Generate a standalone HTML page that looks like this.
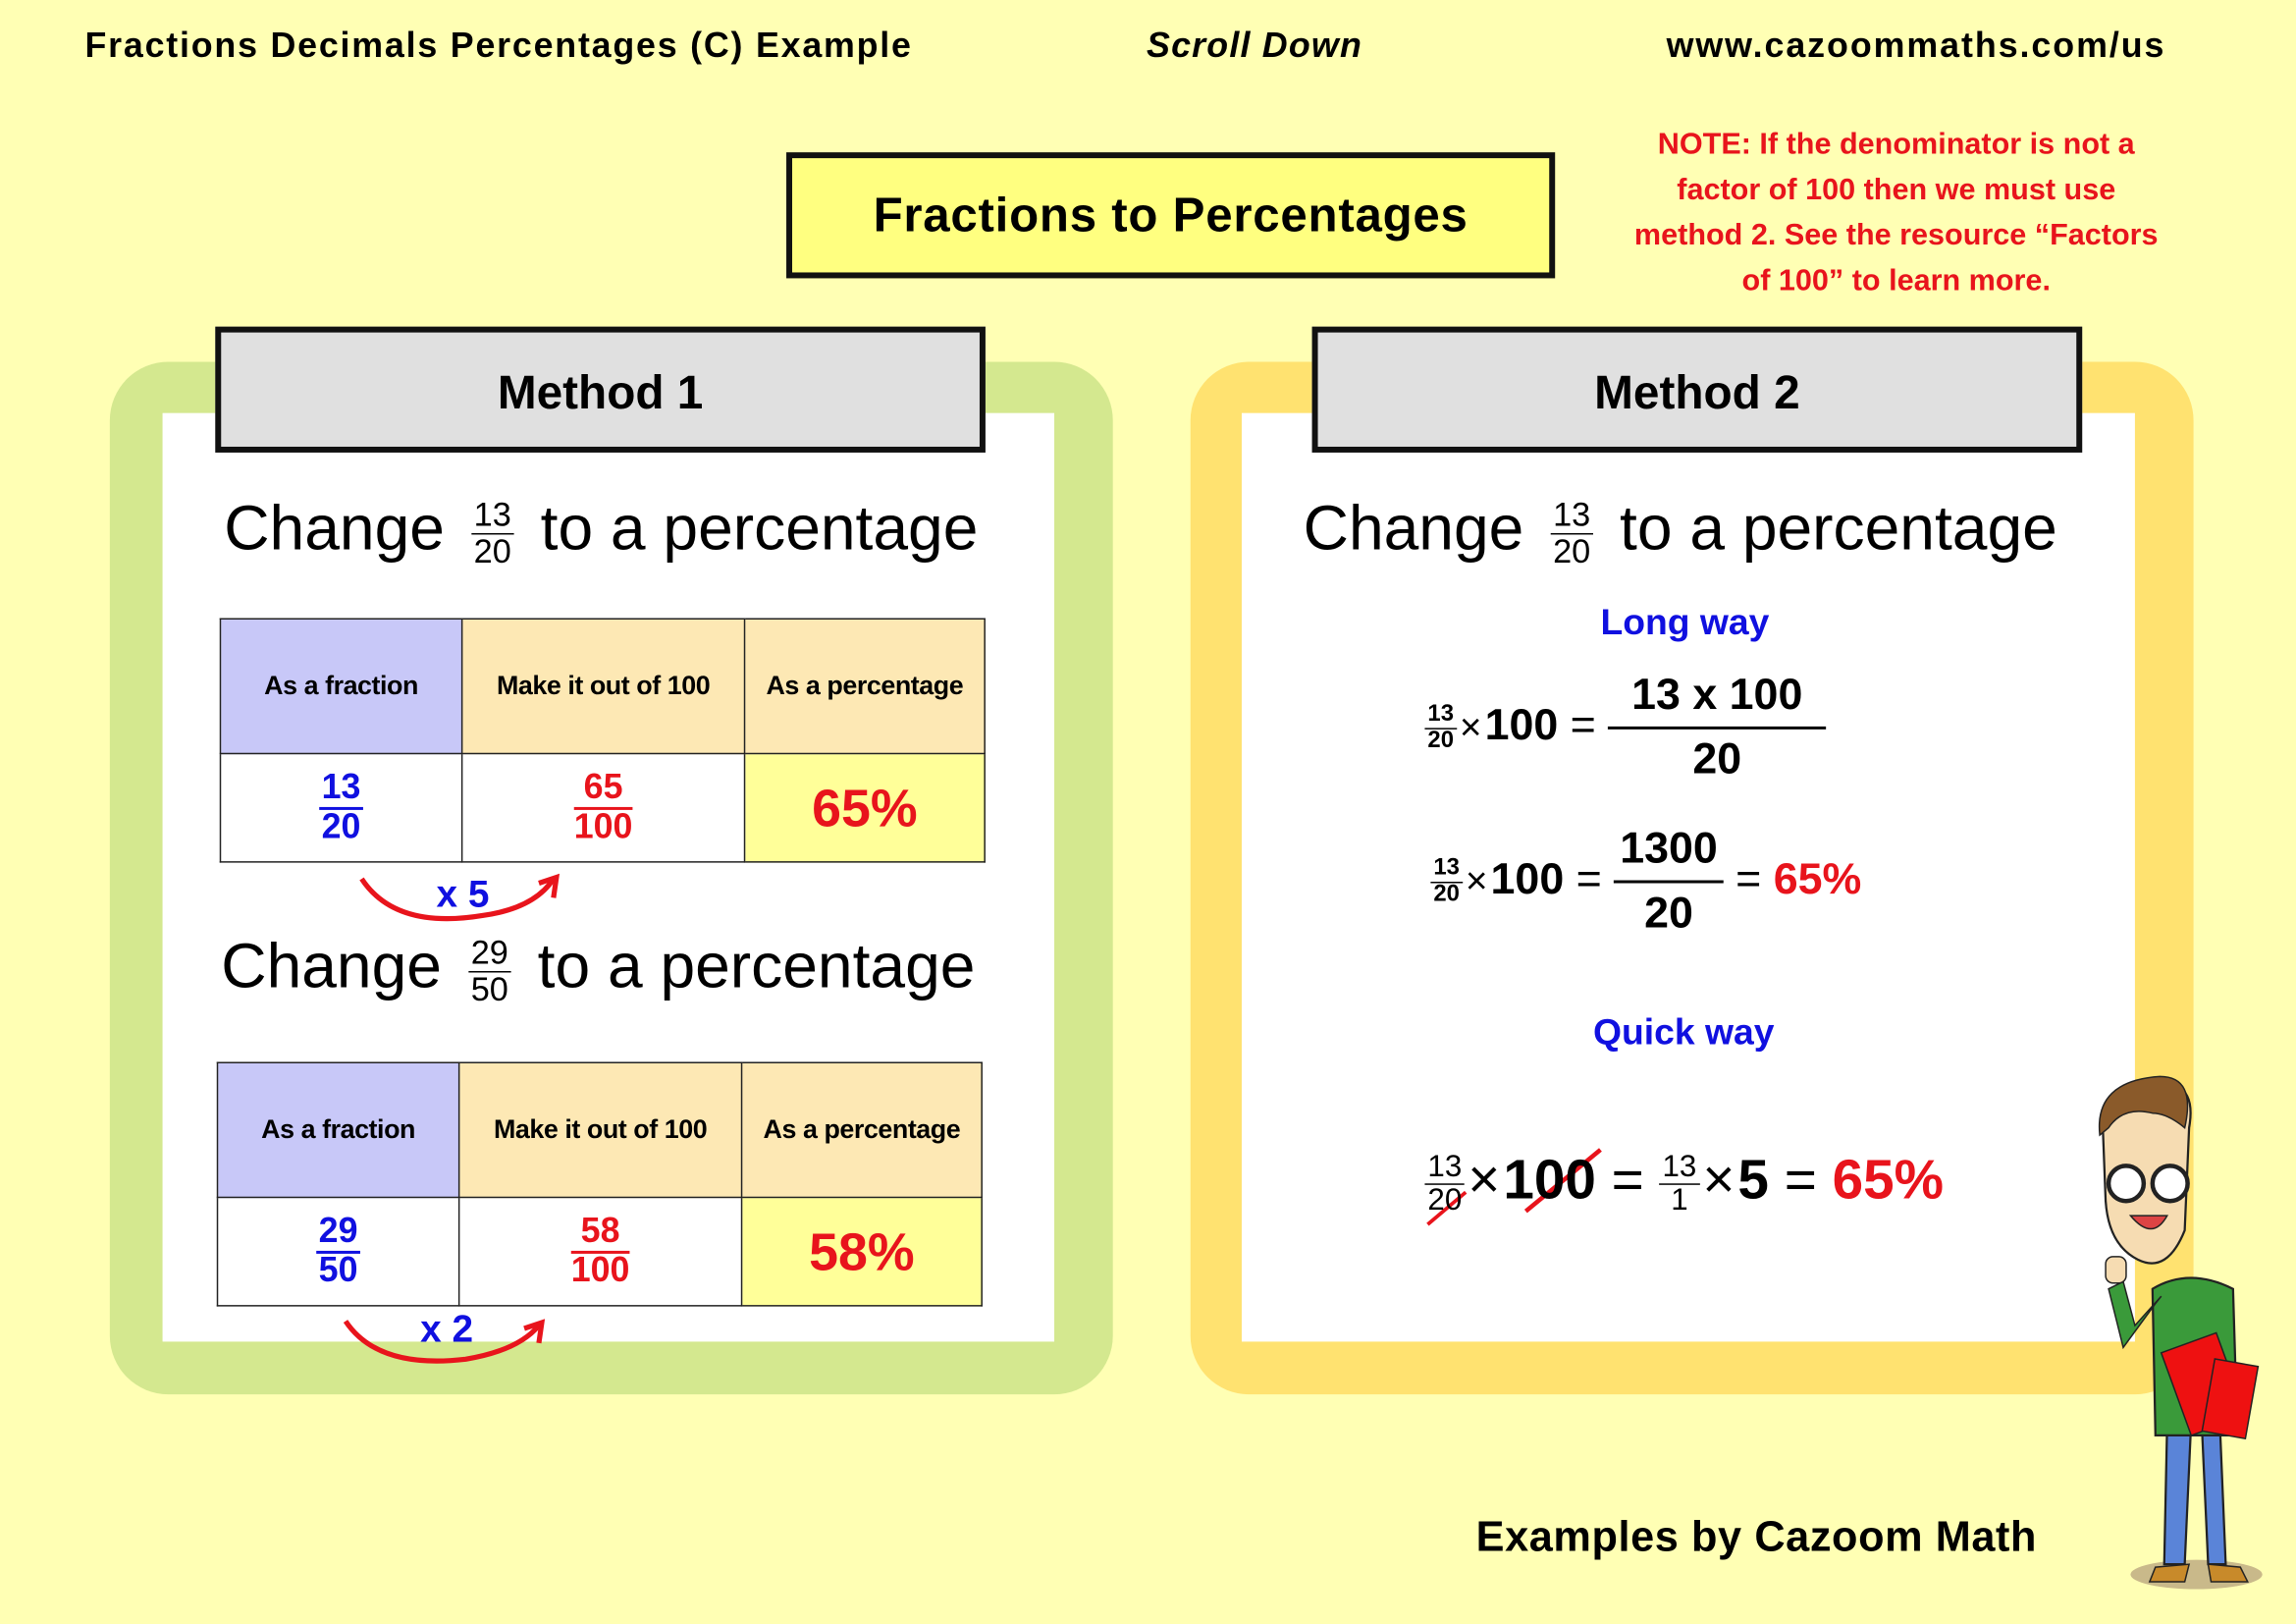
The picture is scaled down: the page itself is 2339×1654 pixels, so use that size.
<!DOCTYPE html>
<html><head><meta charset="utf-8"><style>
html,body{margin:0;padding:0;width:2339px;height:1654px;overflow:hidden;background:#ffffb4;}
#s{position:absolute;left:0;top:0;width:1568px;height:1109px;transform:scale(1.49171);transform-origin:0 0;font-family:"Liberation Sans",sans-serif;}
.a{position:absolute;white-space:nowrap;}
.b{font-weight:bold;}
.frac{display:inline-block;vertical-align:middle;text-align:center;line-height:1;}
.frac span{display:block;}
.frac .n{border-bottom:2px solid currentColor;padding:0 2px 1px;}
table{position:absolute;border-collapse:collapse;font-family:"Liberation Sans",sans-serif;}
td{border:1.5px solid #222;text-align:center;padding:0;}
.h{font-size:18px;font-weight:bold;letter-spacing:-0.3px;}
</style></head><body><div id="s">
<div class="a b" style="left:58px;top:18px;font-size:24px;letter-spacing:1.2px;">Fractions Decimals Percentages (C) Example</div>
<div class="a b" style="left:783px;top:18px;font-size:24px;font-style:italic;letter-spacing:0.8px;">Scroll Down</div>
<div class="a b" style="left:1138px;top:18px;font-size:24px;letter-spacing:1.3px;">www.cazoommaths.com/us</div>

<div class="a b" style="left:537px;top:104px;width:517px;height:78px;border:4px solid #111;background:#ffff80;font-size:33px;line-height:78px;text-align:center;letter-spacing:0.5px;">Fractions to Percentages</div>
<div class="a b" style="left:1115px;top:83px;width:360px;text-align:center;color:#e8141c;font-size:20.5px;line-height:31px;white-space:normal;">NOTE: If the denominator is not a factor of 100 then we must use method 2. See the resource “Factors of 100” to learn more.</div>

<div class="a" style="left:75px;top:247px;width:685px;height:705px;background:#d4e88f;border-radius:40px;"></div>
<div class="a" style="left:111px;top:282px;width:609px;height:634px;background:#fff;"></div>
<div class="a b" style="left:147px;top:223px;width:518px;height:78px;border:4px solid #111;background:#e0e0e0;font-size:32px;line-height:82px;text-align:center;">Method 1</div>

<div class="a" style="left:813px;top:247px;width:685px;height:705px;background:#ffe270;border-radius:40px;"></div>
<div class="a" style="left:848px;top:282px;width:610px;height:634px;background:#fff;"></div>
<div class="a b" style="left:896px;top:223px;width:518px;height:78px;border:4px solid #111;background:#e0e0e0;font-size:32px;line-height:82px;text-align:center;">Method 2</div>

<div class="a" style="left:153px;top:337px;font-size:43px;">Change <span class="frac" style="font-size:23px;margin:0 6px;"><span class="n" style="border-width:1.5px">13</span><span>20</span></span> to a percentage</div>
<div class="a" style="left:151px;top:636px;font-size:43px;">Change <span class="frac" style="font-size:23px;margin:0 6px;"><span class="n" style="border-width:1.5px">29</span><span>50</span></span> to a percentage</div>
<div class="a" style="left:890px;top:337px;font-size:43px;">Change <span class="frac" style="font-size:23px;margin:0 6px;"><span class="n" style="border-width:1.5px">13</span><span>20</span></span> to a percentage</div>

<table style="left:150px;top:422px;width:523px;height:167px;">
<tr style="height:92px"><td class="h" style="width:164px;background:#c8c8f8">As a fraction</td><td class="h" style="width:192px;background:#fde8b4">Make it out of 100</td><td class="h" style="background:#fde8b4">As a percentage</td></tr>
<tr><td><span class="frac b" style="font-size:24px;color:#1010e0"><span class="n">13</span><span>20</span></span></td><td><span class="frac b" style="font-size:24px;color:#e8141c"><span class="n">65</span><span>100</span></span></td><td class="b" style="background:#ffff99;color:#e8141c;font-size:36px;">65%</td></tr>
</table>
<table style="left:148px;top:725px;width:523px;height:167px;">
<tr style="height:92px"><td class="h" style="width:164px;background:#c8c8f8">As a fraction</td><td class="h" style="width:192px;background:#fde8b4">Make it out of 100</td><td class="h" style="background:#fde8b4">As a percentage</td></tr>
<tr><td><span class="frac b" style="font-size:24px;color:#1010e0"><span class="n">29</span><span>50</span></span></td><td><span class="frac b" style="font-size:24px;color:#e8141c"><span class="n">58</span><span>100</span></span></td><td class="b" style="background:#ffff99;color:#e8141c;font-size:36px;">58%</td></tr>
</table>

<svg class="a" style="left:0;top:0" width="1568" height="1109">
<path d="M247 600 Q270 635 330 625 Q365 620 378 600" fill="none" stroke="#e8141c" stroke-width="3.5"/>
<path d="M368 603 L380 599 L378 613" fill="none" stroke="#e8141c" stroke-width="3.5"/>
<path d="M236 902 Q258 935 318 928 Q354 922 368 905" fill="none" stroke="#e8141c" stroke-width="3.5"/>
<path d="M358 907 L370 903 L368 917" fill="none" stroke="#e8141c" stroke-width="3.5"/>
<line x1="975" y1="836" x2="1001" y2="814" stroke="#e8141c" stroke-width="2.5"/>
<line x1="1042" y1="827" x2="1093" y2="785" stroke="#e8141c" stroke-width="3"/>
</svg>
<div class="a b" style="left:298px;top:595px;font-size:26px;color:#1010e0;">x 5</div>
<div class="a b" style="left:287px;top:892px;font-size:26px;color:#1010e0;">x 2</div>

<div class="a b" style="left:1093px;top:411px;font-size:25px;color:#1010e0;">Long way</div>
<div class="a b" style="left:1088px;top:691px;font-size:25px;color:#1010e0;">Quick way</div>

<div class="a" style="left:973px;top:460px;font-size:30px;line-height:1;">
<span class="frac b" style="font-size:16px"><span class="n" style="border-width:1.5px">13</span><span>20</span></span><span style="font-size:26px;margin:0 2px">×</span><span class="b">100</span>&nbsp;=&nbsp;<span class="frac b" style="font-size:30px;"><span class="n" style="padding:0 16px 6px;">13 x 100</span><span style="padding-top:6px">20</span></span></div>
<div class="a" style="left:977px;top:565px;font-size:30px;line-height:1;">
<span class="frac b" style="font-size:16px"><span class="n" style="border-width:1.5px">13</span><span>20</span></span><span style="font-size:26px;margin:0 2px">×</span><span class="b">100</span>&nbsp;=&nbsp;<span class="frac b" style="font-size:30px;"><span class="n" style="padding:0 4px 6px;">1300</span><span style="padding-top:6px">20</span></span>&nbsp;=&nbsp;<span class="b" style="color:#e8141c">65%</span></div>
<div class="a" style="left:973px;top:786px;font-size:38px;line-height:1;">
<span class="frac" style="font-size:21px"><span class="n" style="border-width:1.5px">13</span><span>20</span></span><span style="margin:0 2px">×</span><span class="b">100</span>&nbsp;=&nbsp;<span class="frac" style="font-size:21px"><span class="n" style="border-width:1.5px">13</span><span>1</span></span><span style="margin:0 2px">×</span><span class="b">5</span>&nbsp;=&nbsp;<span class="b" style="color:#e8141c">65%</span></div>

<svg class="a" style="left:1400px;top:730px" width="168" height="360" viewBox="0 0 168 360">
<ellipse cx="100" cy="345" rx="45" ry="10" fill="#c9b98a"/>
<path d="M80 242 L78 338 L92 338 L96 250 L104 250 L108 338 L120 338 L116 242 Z" fill="#5a84d8" stroke="#222" stroke-width="1.5"/>
<path d="M72 340 L95 338 L92 350 L68 350 Z M108 338 L130 340 L135 350 L110 350 Z" fill="#c88a2a" stroke="#222"/>
<path d="M70 150 Q95 135 125 150 L128 250 L72 250 Z" fill="#3a9a3a" stroke="#222" stroke-width="1.5"/>
<path d="M72 160 L50 190 L40 150 L50 145 L58 175 L76 155 Z" fill="#3a9a3a" stroke="#222"/>
<rect x="85" y="185" width="40" height="60" fill="#e11" stroke="#222" transform="rotate(-20 105 215)"/>
<rect x="108" y="200" width="30" height="50" fill="#e11" stroke="#222" transform="rotate(10 123 225)"/>
<path d="M36 38 Q40 5 80 10 Q100 12 95 40 L92 110 Q80 140 60 130 Q40 120 38 90 Z" fill="#f6dcb2" stroke="#222" stroke-width="1.5"/>
<path d="M34 45 Q30 8 75 5 Q100 5 92 40 Q80 30 70 30 Q50 25 40 40 Z" fill="#8a5a2a" stroke="#222"/>
<circle cx="52" cy="78" r="12" fill="#fff" stroke="#222" stroke-width="3"/>
<circle cx="82" cy="78" r="12" fill="#fff" stroke="#222" stroke-width="3"/>
<path d="M55 100 Q70 118 80 100 Z" fill="#d44" stroke="#222"/>
<rect x="38" y="128" width="14" height="18" rx="5" fill="#f6dcb2" stroke="#222"/>
</svg>

<div class="a b" style="left:1008px;top:1034px;font-size:29px;letter-spacing:0.4px;">Examples by Cazoom Math</div>
</div></body></html>
